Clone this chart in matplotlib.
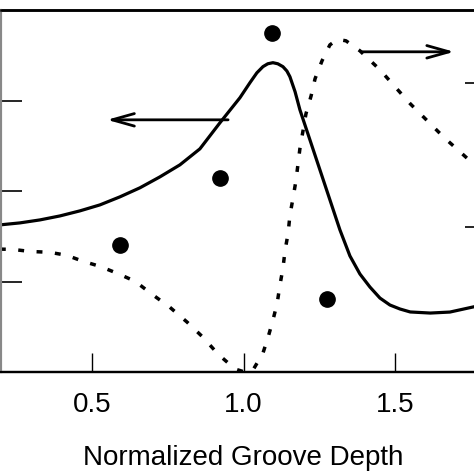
import numpy as np
import matplotlib.pyplot as plt

plt.rcParams['font.family'] = ['Liberation Sans', 'DejaVu Sans']

# solid curve (left axis)
solid_x = [0.196, 0.262, 0.328, 0.394, 0.460, 0.526, 0.592, 0.658, 0.724, 0.790,
           0.856, 0.922, 0.988, 1.021, 1.044, 1.064, 1.080, 1.097, 1.113, 1.130,
           1.143, 1.153, 1.170, 1.186, 1.219, 1.252, 1.285, 1.318, 1.351, 1.384,
           1.417, 1.450, 1.483, 1.516, 1.550, 1.616, 1.681, 1.757, 1.80]
solid_y = [1.628, 1.650, 1.683, 1.727, 1.783, 1.849, 1.938, 2.038, 2.159, 2.292,
           2.469, 2.757, 3.034, 3.20, 3.31, 3.378, 3.41, 3.422, 3.41, 3.378,
           3.33, 3.267, 3.101, 2.901, 2.569, 2.237, 1.905, 1.573, 1.285, 1.085,
           0.941, 0.819, 0.742, 0.698, 0.665, 0.653, 0.664, 0.720, 0.75]

# dashed curve (right axis)
dash_x = [0.196, 0.239, 0.295, 0.361, 0.417, 0.470, 0.526, 0.583, 0.642, 0.698,
          0.757, 0.814, 0.866, 0.916, 0.972, 1.005, 1.031, 1.064, 1.081, 1.097,
          1.111, 1.120, 1.130, 1.137, 1.147, 1.153, 1.163, 1.173, 1.186, 1.206,
          1.223, 1.236, 1.259, 1.285, 1.310, 1.338, 1.384, 1.450, 1.500, 1.550,
          1.606, 1.662, 1.721, 1.761, 1.80]
dash_y = [0.85, 0.848, 0.834, 0.828, 0.807, 0.766, 0.731, 0.683, 0.628, 0.538,
          0.448, 0.345, 0.241, 0.124, 0.021, 0.0, 0.014, 0.131, 0.241, 0.359,
          0.476, 0.600, 0.717, 0.841, 0.959, 1.083, 1.200, 1.324, 1.545, 1.786,
          1.910, 2.028, 2.152, 2.262, 2.30, 2.290, 2.221, 2.090, 1.972, 1.855,
          1.738, 1.621, 1.510, 1.434, 1.40]

# measured points (left axis)
dot_x = [0.592, 0.922, 1.094, 1.276]
dot_y = [1.406, 2.148, 3.754, 0.808]

xticks = [0.5, 1.0, 1.5]
xtick_labels = ['0.5', '1.0', '1.5']

fig = plt.figure(figsize=(4.74, 4.74), dpi=100)
ax = fig.add_axes([0.0023, 0.215, 1.023, 0.763])
ax2 = ax.twinx()

ax.plot(solid_x, solid_y, color='black', lw=2.3, solid_joinstyle='round')
ax.plot(dot_x, dot_y, 'o', color='black', ms=11)
ax2.plot(dash_x, dash_y, color='black', lw=2.5, dashes=(1.7, 3.6),
         dash_capstyle='butt', dash_joinstyle='round')

# arrows pointing to the axes each curve belongs to
arrow = dict(arrowstyle='->,head_length=1.6,head_width=0.45', color='black', lw=2.0,
             shrinkA=0, shrinkB=0)
ax.annotate('', xy=(0.5495, 2.79), xytext=(0.949, 2.79), arrowprops=arrow)
ax2.annotate('', xy=(1.695, 2.214), xytext=(1.391, 2.214), arrowprops=arrow)

ax.set_xlim(0.2, 1.8)
ax.set_ylim(0, 4.0)
ax2.set_ylim(0, 2.5)

ax.set_xticks(xticks)
ax.set_xticklabels(xtick_labels, fontsize=20)
ax.set_yticks([1, 2, 3])
ax.set_yticklabels([])
ax2.set_yticks([1, 2])
ax2.set_yticklabels([])
ax.tick_params(axis='x', direction='in', length=14, width=1.0, pad=14)
ax.tick_params(axis='y', direction='in', length=15, width=1.2)
ax2.tick_params(axis='y', direction='in', length=15, width=1.2)

ax.set_xlabel('Normalized Groove Depth', fontsize=20, labelpad=20)

for a in (ax, ax2):
    a.spines['top'].set_linewidth(1.8)
    a.spines['bottom'].set_linewidth(1.6)
    a.spines['left'].set_linewidth(1.5)
    a.spines['left'].set_color('#888888')

fig.savefig('out.png', dpi=100)
